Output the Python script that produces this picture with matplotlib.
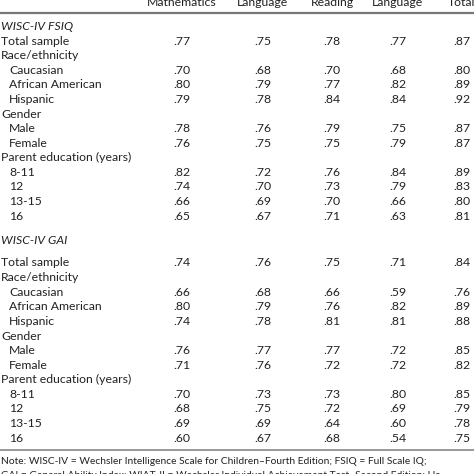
import matplotlib
matplotlib.use("Agg")
import matplotlib.pyplot as plt

columns = ["Mathematics", "Language", "Reading", "Language", "Total"]
row_labels = ["Total sample", "Race/ethnicity", "Caucasian", "African American", "Hispanic",
              "Gender", "Male", "Female", "Parent education (years)", "8-11", "12", "13-15", "16"]
row_indent = [0, 0, 1, 1, 1, 0, 1, 1, 0, 1, 1, 1, 1]
fsiq_values = [[".77", ".75", ".78", ".77", ".87"], None,
               [".70", ".68", ".70", ".68", ".80"], [".80", ".79", ".77", ".82", ".89"],
               [".79", ".78", ".84", ".84", ".92"], None,
               [".78", ".76", ".79", ".75", ".87"], [".76", ".75", ".75", ".79", ".87"], None,
               [".82", ".72", ".76", ".84", ".89"], [".74", ".70", ".73", ".79", ".83"],
               [".66", ".69", ".70", ".66", ".80"], [".65", ".67", ".71", ".63", ".81"]]
gai_values = [[".74", ".76", ".75", ".71", ".84"], None,
              [".66", ".68", ".66", ".59", ".76"], [".80", ".79", ".76", ".82", ".89"],
              [".74", ".78", ".81", ".81", ".88"], None,
              [".76", ".77", ".77", ".72", ".85"], [".71", ".76", ".72", ".72", ".82"], None,
              [".70", ".73", ".73", ".80", ".85"], [".68", ".75", ".72", ".69", ".79"],
              [".69", ".69", ".64", ".60", ".78"], [".60", ".67", ".68", ".54", ".75"]]
note1 = "Note: WISC-IV = Wechsler Intelligence Scale for Children\u2013Fourth Edition; FSIQ = Full Scale IQ;"
note2 = "GAI = General Ability Index; WIAT-II = Wechsler Individual Achievement Test\u2013Second Edition; Ha"

W = H = 474
fig = plt.figure(figsize=(4.74, 4.74), dpi=100)
ax = fig.add_axes([0, 0, 1, 1])
ax.set_xlim(0, W); ax.set_ylim(H, 0); ax.axis("off")
plt.rcParams["font.family"] = ["Lato", "DejaVu Sans"]
fs = 8.8
colx = [182, 263, 332, 398, 462]
c = "#222222"

for x, t in zip(colx, columns):
    ax.text(x, 2, t, ha="center", va="center", fontsize=fs, color=c)
ax.plot([0, W], [13, 13], color="#777777", lw=1.6)

def block(title, y0, ytitle, values):
    ax.text(1, ytitle, title, ha="left", va="center", fontsize=fs, style="italic", color=c)
    for i, (lab, ind, vals) in enumerate(zip(row_labels, row_indent, values)):
        y = y0 + i * 14.6
        ax.text(1 + 8 * ind, y, lab, ha="left", va="center", fontsize=fs, color=c)
        if vals:
            for x, v in zip(colx, vals):
                ax.text(x, y, v, ha="center", va="center", fontsize=fs, color=c)

block("WISC-IV FSIQ", 41, 26, fsiq_values)
block("WISC-IV GAI", 263, 240, gai_values)
ax.plot([0, W], [450, 450], color="#999999", lw=1.4)
ax.text(1, 461, note1, ha="left", va="center", fontsize=7.4, color=c)
ax.text(1, 476, note2, ha="left", va="center", fontsize=7.4, color=c)
fig.savefig("out.png", dpi=100)
